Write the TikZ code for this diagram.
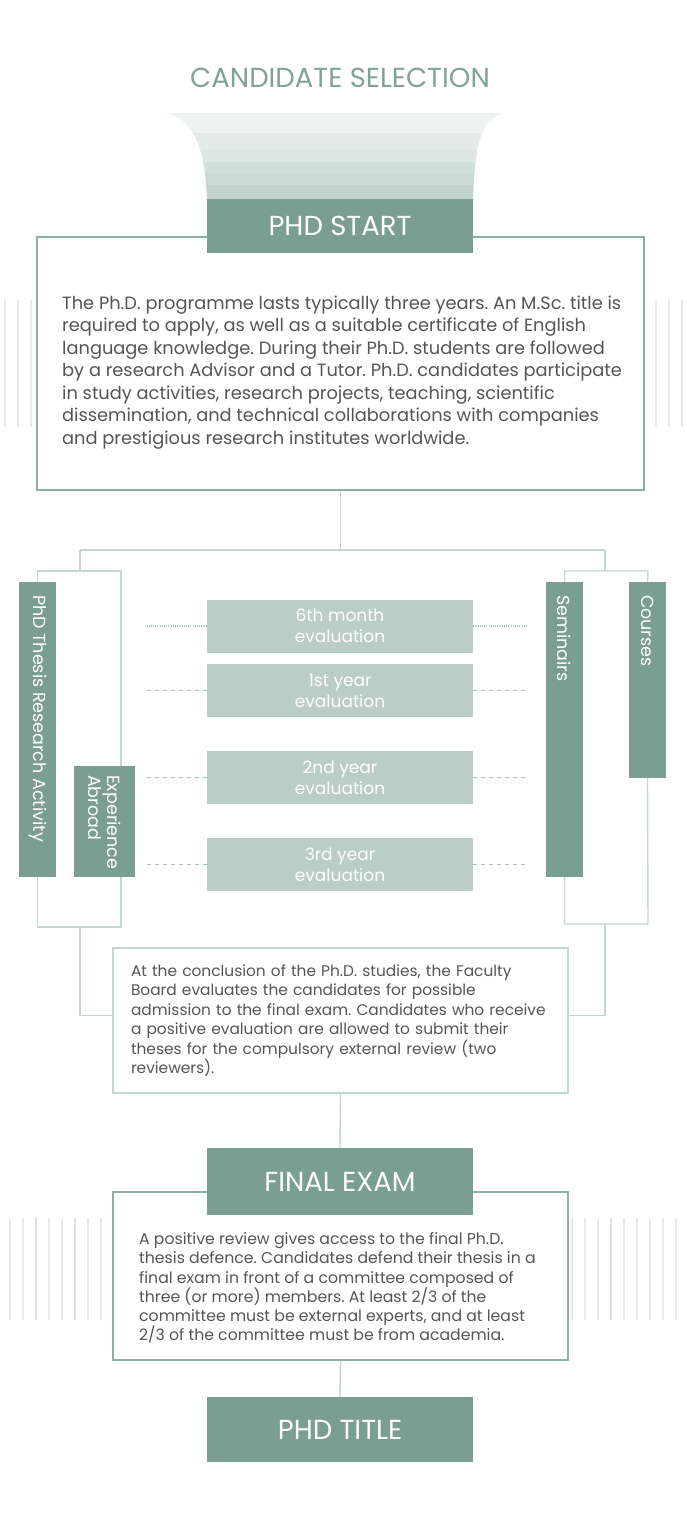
\documentclass[tikz,border=0pt]{standalone}
\usepackage{fontspec}
\setmainfont{Poppins}
\usepackage{xcolor}
\usepackage{tikz}
\usetikzlibrary{positioning, calc}
\definecolor{sage}{HTML}{7A9E92}
\definecolor{mist}{HTML}{B9CEC6}
\definecolor{wirec}{HTML}{C3D6CF}
\definecolor{frame}{HTML}{8DB0A4}
\definecolor{ink}{HTML}{555555}
\definecolor{tickc}{HTML}{A9C2B9}
\definecolor{ghostgray}{HTML}{E8EAE9}
\definecolor{ghostgreen}{HTML}{D6E3DE}
\frenchspacing

\begin{document}
\begin{tikzpicture}[
  x=1pt, y=-1pt,
  head/.style={fill=sage, text=white, minimum width=266pt, inner sep=0pt, font=\fontsize{27.5}{32}\selectfont},
  evalbox/.style={fill=mist, text=white, minimum width=266pt, minimum height=53pt, inner sep=0pt, align=center, font=\fontsize{17}{21}\selectfont},
  bar/.style={fill=sage, minimum width=37pt, inner sep=0pt},
  bartext/.style={rotate=-90, anchor=west, text=white, inner sep=0pt, align=left, font=\fontsize{17.5}{19}\selectfont},
  panel/.style={draw=frame, line width=1.4pt, fill=white, inner sep=0pt},
  body/.style={text=ink, align=left, inner sep=0pt, font=\fontsize{17.8}{22.5}\selectfont},
  wire/.style={draw=wirec, line width=1.4pt},
  tick/.style={draw=tickc, line width=1.2pt, dash pattern=on 4pt off 4pt},
  ghost/.style={line width=1.5pt}
]
\fill[white] (0,0) rectangle (687,1536);
\useasboundingbox (0,0) rectangle (687,1536);

% side stripes
\foreach \x/\c in {5/ghostgray, 18/ghostgray, 31/ghostgray, 656/ghostgray, 669/ghostgray, 682/ghostgray}
  \draw[ghost, \c] (\x,300) -- (\x,427);
\foreach \x/\c in {10/ghostgray, 23/ghostgray, 36/ghostgreen, 49/ghostgray, 62/ghostgray, 75/ghostgreen, 88/ghostgray, 101/ghostgray,
                   572/ghostgray, 585/ghostgray, 598/ghostgray, 611/ghostgreen, 624/ghostgray, 637/ghostgray, 650/ghostgray, 663/ghostgray, 676/ghostgray}
  \draw[ghost, \c] (\x,1218) -- (\x,1320);

\node[text=sage!95!white, inner sep=0pt, font=\fontsize{27.5}{32}\selectfont] (selection) at (340,78) {CANDIDATE SELECTION};

% funnel
\begin{scope}
  \clip (165,113) .. controls (190,118) and (205,140) .. (207,200)
    -- (473,200) .. controls (475,140) and (482,118) .. (505,113) -- cycle;
  \foreach \ya/\yb/\p in {113/133/24, 133/150/40, 150/162/52, 162/173/64, 173/185/76, 185/200/88}
    \fill[mist!\p!white] (160,\ya) rectangle (520,\yb);
\end{scope}

\node[panel, minimum width=607pt, minimum height=253pt] (intro) at (340.5,363.5) {};
\node[head, minimum height=54pt] (start) at (340,226) {PHD START};
\node[body, anchor=west] (introtxt) at (62,372.5) {The Ph.D. programme lasts typically three years. An M.Sc. title is\\
required to apply, as well as a suitable certificate of English\\
language knowledge. During their Ph.D. students are followed\\
by a research Advisor and a Tutor. Ph.D. candidates participate\\
in study activities, research projects, teaching, scientific\\
dissemination, and technical collaborations with companies\\
and prestigious research institutes worldwide.};

% side bars
\node[bar, minimum height=295pt] (thesis) at (37.5,729.5) {};
\node[bar, minimum width=61pt, minimum height=111pt] (abroad) at (104.5,821.5) {};
\node[bar, minimum height=295pt] (seminar) at (564.5,729.5) {};
\node[bar, minimum height=196pt] (courses) at (647.5,680) {};
\node[bartext] (thesistxt) at ($(thesis.north)+(0,13)$) {PhD Thesis Research Activity};
\node[bartext] (abroadtxt) at ($(abroad.north)+(0,9)$) {Experience\\Abroad};
\node[bartext] (seminartxt) at ($(seminar.north)+(0,13)$) {Seminairs};
\node[bartext] (coursestxt) at ($(courses.north)+(0,13)$) {Courses};

% evaluations
\node[evalbox] (ev1) at (340,626) {6th month\\evaluation};
\node[evalbox] (ev2) at (340,690.5) {1st year\\evaluation};
\node[evalbox] (ev3) at (340,777.5) {2nd year\\evaluation};
\node[evalbox] (ev4) at (340,864.5) {3rd year\\evaluation};
\draw[tick, dash pattern=on 1pt off 1.2pt] (ev1.west) -- ([xshift=-60pt]ev1.west);
\draw[tick, dash pattern=on 1pt off 1.2pt] (ev1.east) -- ([xshift=54pt]ev1.east);
\foreach \i in {2,3,4} {
  \draw[tick] (ev\i.west) -- ([xshift=-60pt]ev\i.west);
  \draw[tick] (ev\i.east) -- ([xshift=54pt]ev\i.east);
}

\node[panel, draw=wirec, body, text width=419pt, inner xsep=18pt, minimum height=145pt, font=\fontsize{15.4}{19.4}\selectfont] (review) at (340.5,1020.5) {At the conclusion of the Ph.D. studies, the Faculty\\
Board evaluates the candidates for possible\\
admission to the final exam. Candidates who receive\\
a positive evaluation are allowed to submit their\\
theses for the compulsory external review (two\\
reviewers).};

\node[panel, minimum width=455pt, minimum height=168pt] (defence) at (340.5,1276) {};
\node[head, minimum height=67pt] (final) at (340,1181.5) {FINAL EXAM};
\node[body, anchor=west, font=\fontsize{15.7}{19.2}\selectfont] (defencetxt) at (139,1288) {A positive review gives access to the final Ph.D.\\
thesis defence. Candidates defend their thesis in a\\
final exam in front of a committee composed of\\
three (or more) members. At least 2/3 of the\\
committee must be external experts, and at least\\
2/3 of the committee must be from academia.};

\node[head, minimum height=65pt] (title) at (340,1429.5) {PHD TITLE};

% connectors
\coordinate (jTop) at (340.5,550);
\coordinate (jL) at (80,550);
\coordinate (jR) at (605,550);
\coordinate (forkL) at (80,571);
\coordinate (forkR) at (605,571);
\coordinate (abrTap) at (121,571);
\coordinate (crsTap) at (648,571);
\coordinate (joinL) at (80,927);
\coordinate (abrTail) at (121,927);
\coordinate (joinR) at (605,924);
\coordinate (crsTail) at (648,924);
\draw[wire] (intro.south) -- (jTop);
\draw[wire] (jL) -- (jR);
\draw[wire] (jL) -- (forkL);
\draw[wire] (jR) -- (forkR);
\draw[wire] (thesis.north) |- (abrTap) -- (abrTap |- abroad.north);
\draw[wire] (seminar.north) |- (crsTap) -- (courses.north);
\draw[wire] (thesis.south) |- (abrTail) -- (abrTail |- abroad.south);
\draw[wire] (seminar.south) |- (crsTail) -- (courses.south);
\draw[wire] (joinL) |- ([yshift=5pt]review.west);
\draw[wire] (joinR) |- ([yshift=5pt]review.east);
\draw[wire] (review.south) -- (final.north);
\draw[wire] (defence.south) -- (title.north);
\end{tikzpicture}
\end{document}
